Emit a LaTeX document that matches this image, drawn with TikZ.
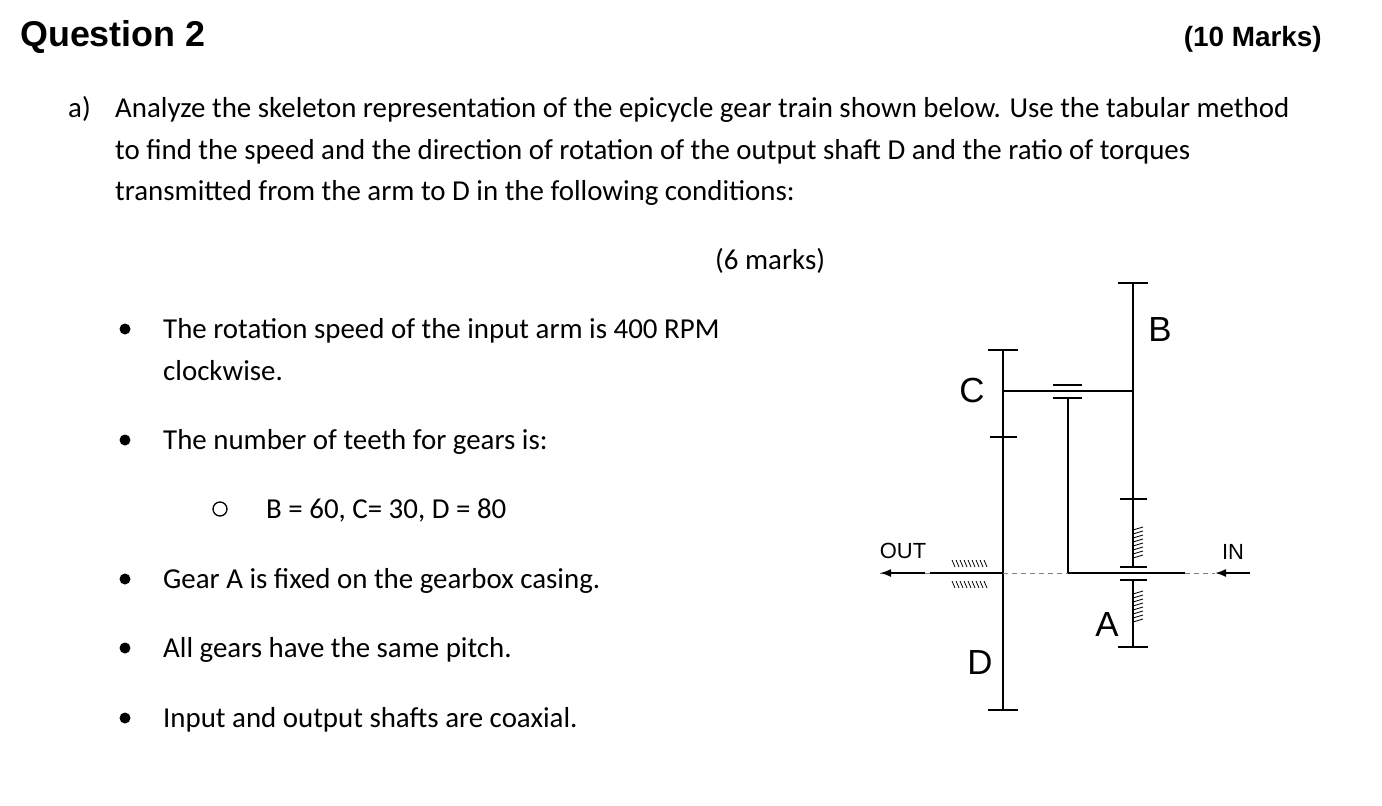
\documentclass[tikz,border=0pt]{standalone}
\usepackage{fontspec}
\usetikzlibrary{arrows.meta}
\setmainfont{Carlito}
\newfontfamily\arialf{Liberation Sans}
\begin{document}
\begin{tikzpicture}[x=1bp,y=-1bp,
  body/.style={anchor=base west,inner sep=0,font=\fontsize{29}{34}\selectfont},
  lab/.style={font=\arialf\fontsize{35}{40}\selectfont,inner sep=0},
  sm/.style={font=\arialf\fontsize{22}{26}\selectfont,inner sep=0},
  ln/.style={line width=2bp},
  dsh/.style={line width=1bp,dash pattern=on 5bp off 4bp,gray},
  hat/.style={line width=0.8bp}]
\useasboundingbox (0,0) rectangle (1382,805);
\node[body,font=\arialf\bfseries\fontsize{36}{40}\selectfont] (t1) at (20,47) {Question 2};
\node[anchor=base east,inner sep=0,font=\arialf\bfseries\fontsize{28}{32}\selectfont] (t2) at (1322,47) {(10 Marks)};
\node[body] (a) at (68,117) {a)};
\node[body] (l1) at (115,117) {Analyze the skeleton representation of the epicycle gear train shown below. Use the tabular method};
\node[body] (l2) at (115,159) {to find the speed and the direction of rotation of the output shaft D and the ratio of torques};
\node[body] (l3) at (115,200) {transmitted from the arm to D in the following conditions:};
\node[body] (m6) at (715,269) {(6 marks)};
\foreach \y/\t [count=\i] in {338/The rotation speed of the input arm is 400 RPM, 449/The number of teeth for gears is:, 588/Gear A is fixed on the gearbox casing., 657/All gears have the same pitch., 727/Input and output shafts are coaxial.}{
  \fill (125,\y-9) circle (5.5bp);
  \node[body] (bt\i) at (163,\y) {\t};
}
\node[body] (bt1b) at (163,380) {clockwise.};
\draw[line width=1.3bp] (220,509) circle (7bp);
\node[body] (teeth) at (266,518) {B = 60, C= 30, D = 80};
% diagram
\coordinate (Dt) at (1003,350); \coordinate (Db) at (1003,710);
\draw[ln] (Dt) -- (Db);
\draw[ln] (988,350) -- (1018,350) (990,437) -- (1017,437) (988,710) -- (1018,710);
\coordinate (Bt) at (1133,283);
\draw[ln] (Bt) -- (1133,567);
\draw[ln] (1118,283) -- (1148,283) (1120,499) -- (1147,499) (1120,567) -- (1147,567);
\draw[ln] (1120,580) -- (1147,580) (1133,580) -- (1133,647) (1118,647) -- (1148,647);
\draw[ln] (1003,391) -- (1133,391);
\draw[ln] (1053,385) -- (1082,385) (1053,398) -- (1082,398);
\draw[ln] (1068,398) -- (1068,573) -- (1185,573);
\draw[dsh] (1003,573) -- (1068,573) (1185,573) -- (1215,573) (880,573) -- (930,573);
\draw[ln] (930,573) -- (1003,573);
\draw[line width=1.8bp,-{Latex[length=11bp,width=8bp]}] (925,573) -- (880,573);
\draw[line width=1.8bp,-{Latex[length=11bp,width=8bp]}] (1250,573) -- (1215,573);
\foreach \x in {952,956,...,984} {\draw[hat] (\x,560) -- (\x+3,567); \draw[hat] (\x,581) -- (\x+3,588);}
\foreach \y in {527,531,...,555} {\draw[hat] (1133,\y+3) -- (1143,\y);}
\foreach \y in {591,595,...,619} {\draw[hat] (1133,\y+3) -- (1143,\y);}
\node[lab] (B) at (1160,330) {B};
\node[lab] (C) at (972,390) {C};
\node[lab] (A) at (1107,624) {A};
\node[lab] (D) at (980,662) {D};
\node[sm] (OUT) at (903,551) {OUT};
\node[sm] (IN) at (1233,552) {IN};
\end{tikzpicture}
\end{document}
